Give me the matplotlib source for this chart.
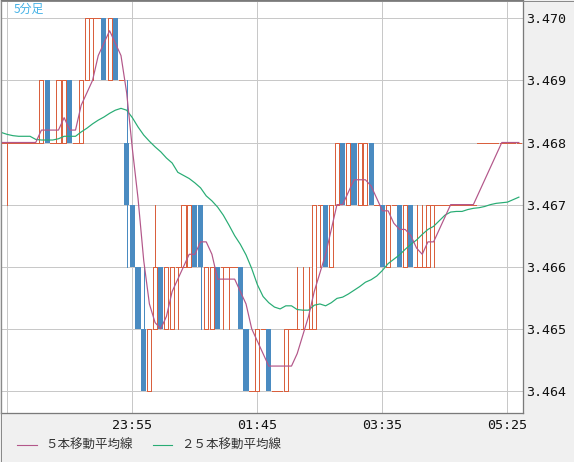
import matplotlib
matplotlib.use("Agg")
import matplotlib.pyplot as plt
from matplotlib.patches import Rectangle
from matplotlib.lines import Line2D
import numpy as np

# ---------------- data (5-minute bars) ----------------
opens = [3.468,3.468,3.468,3.468,3.468,3.468,3.468,3.468,3.469,3.468,
         3.468,3.468,3.469,3.468,3.468,3.469,3.470,3.470,3.470,3.469,
         3.470,3.469,3.468,3.467,3.466,3.465,3.464,3.465,3.466,3.465,
         3.465,3.466,3.466,3.466,3.467,3.467,3.465,3.465,3.466,3.466,
         3.466,3.466,3.466,3.465,3.464,3.464,3.465,3.465,3.464,3.464,
         3.464,3.465,3.465,3.465,3.465,3.465,3.467,3.467,3.466,3.467,
         3.468,3.467,3.468,3.467,3.467,3.468,3.467,3.467,3.466,3.467,
         3.467,3.466,3.467,3.466,3.466,3.466,3.467,3.467,3.467,3.467,
         3.467,3.467,3.467,3.467,3.468,3.468,3.468,3.468,3.468,3.468,
         3.468,3.468]
closes = [3.468,3.468,3.468,3.468,3.468,3.468,3.468,3.469,3.468,3.468,
          3.469,3.469,3.468,3.468,3.469,3.470,3.470,3.470,3.469,3.470,
          3.469,3.469,3.467,3.466,3.465,3.464,3.465,3.466,3.465,3.466,
          3.466,3.466,3.467,3.467,3.466,3.466,3.466,3.466,3.465,3.466,
          3.466,3.466,3.465,3.464,3.464,3.465,3.465,3.464,3.464,3.464,
          3.465,3.465,3.465,3.465,3.465,3.467,3.467,3.466,3.467,3.468,
          3.467,3.468,3.467,3.468,3.468,3.467,3.467,3.466,3.467,3.467,
          3.466,3.467,3.466,3.466,3.466,3.467,3.467,3.467,3.467,3.467,
          3.467,3.467,3.467,3.467,3.468,3.468,3.468,3.468,3.468,3.468,
          3.468,3.468]
highs = [3.468,3.468,3.468,3.468,3.468,3.468,3.468,3.469,3.469,3.468,
         3.469,3.469,3.469,3.468,3.469,3.470,3.470,3.470,3.470,3.470,
         3.470,3.469,3.469,3.467,3.466,3.466,3.465,3.467,3.466,3.466,
         3.466,3.466,3.467,3.467,3.467,3.467,3.466,3.466,3.466,3.466,
         3.466,3.466,3.466,3.465,3.464,3.465,3.465,3.465,3.464,3.464,
         3.465,3.465,3.466,3.466,3.466,3.467,3.467,3.467,3.467,3.468,
         3.468,3.468,3.468,3.468,3.468,3.468,3.467,3.467,3.467,3.467,
         3.467,3.467,3.467,3.467,3.467,3.467,3.467,3.467,3.467,3.467,
         3.467,3.467,3.467,3.467,3.468,3.468,3.468,3.468,3.468,3.468,
         3.468,3.468]
lows = [3.468,3.467,3.468,3.468,3.468,3.468,3.468,3.468,3.468,3.468,
        3.468,3.468,3.468,3.468,3.468,3.469,3.469,3.470,3.469,3.469,
        3.469,3.469,3.466,3.466,3.465,3.464,3.464,3.465,3.465,3.465,
        3.465,3.465,3.466,3.466,3.466,3.465,3.465,3.465,3.465,3.465,
        3.465,3.466,3.465,3.464,3.464,3.464,3.465,3.464,3.464,3.464,
        3.464,3.465,3.465,3.465,3.465,3.465,3.466,3.466,3.466,3.467,
        3.467,3.467,3.467,3.467,3.467,3.467,3.467,3.466,3.466,3.467,
        3.466,3.466,3.466,3.466,3.466,3.466,3.466,3.467,3.467,3.467,
        3.467,3.467,3.467,3.467,3.468,3.468,3.468,3.468,3.468,3.468,
        3.468,3.468]
ma5 = [3.4680,3.4680,3.4680,3.4680,3.4680,3.4680,3.4680,3.4682,3.4682,3.4682,
       3.4682,3.4684,3.4682,3.4682,3.4686,3.4688,3.4690,3.4694,3.4696,3.4698,
       3.4696,3.4694,3.4688,3.4679,3.4671,3.4661,3.4654,3.4651,3.4650,3.4652,
       3.4656,3.4658,3.4660,3.4662,3.4662,3.4664,3.4664,3.4662,3.4658,3.4658,
       3.4658,3.4658,3.4656,3.4654,3.4650,3.4648,3.4646,3.4644,3.4644,3.4644,
       3.4644,3.4644,3.4646,3.4649,3.4652,3.4656,3.4659,3.4662,3.4666,3.4670,
       3.4670,3.4672,3.4674,3.4674,3.4674,3.4673,3.4671,3.4669,3.4669,3.4667,
       3.4666,3.4666,3.4665,3.4663,3.4662,3.4664,3.4664,3.4666,3.4668,3.4670,
       3.4670,3.4670,3.4670,3.4670,3.4672,3.4674,3.4676,3.4678,3.4680,3.4680,
       3.4680,3.4680]
ma25 = [3.46816,3.46813,3.46811,3.46810,3.46810,3.46810,3.46805,3.46804,3.46804,3.46804,
        3.46806,3.46810,3.46810,3.46810,3.46817,3.46823,3.46830,3.46836,3.46841,3.46847,
        3.46852,3.46855,3.46852,3.46840,3.46825,3.46812,3.46802,3.46793,3.46785,3.46775,
        3.46767,3.46752,3.46747,3.46742,3.46735,3.46727,3.46714,3.46706,3.46696,3.46683,
        3.46667,3.46650,3.46636,3.46619,3.46597,3.46571,3.46552,3.46542,3.46535,3.46532,
        3.46537,3.46537,3.46531,3.46530,3.46530,3.46538,3.46540,3.46537,3.46542,3.46549,
        3.46551,3.46556,3.46562,3.46568,3.46575,3.46579,3.46585,3.46594,3.46605,3.46612,
        3.46619,3.46628,3.46636,3.46643,3.46652,3.46660,3.46665,3.46674,3.46683,3.46688,
        3.46689,3.46689,3.46692,3.46694,3.46695,3.46697,3.46700,3.46702,3.46703,3.46704,
        3.46708,3.46712]
yticks = [3.464, 3.465, 3.466, 3.467, 3.468, 3.469, 3.470]
ytick_labels = ["3.464", "3.465", "3.466", "3.467", "3.468", "3.469", "3.470"]
xgrid_bars = [1, 23, 45, 67, 89]
xtick_labels = ["", "23:55", "01:45", "03:35", "05:25"]
title = "5分足"
legend_labels = ["５本移動平均線", "２５本移動平均線"]

# ---------------- style ----------------
UP = "#d9603e"
DOWN = "#4a8bc1"
MA5_C = "#b3578a"
MA25_C = "#28ac74"
GRID = "#c8c8c8"
SPINE = "#7a7a7a"
BG = "#f0f0f0"
CJK = ["Noto Sans CJK JP", "DejaVu Sans"]
MONO = "DejaVu Sans Mono"

W, H = 574, 462
fig = plt.figure(figsize=(W / 100, H / 100), dpi=100, facecolor=BG)
px = 72 / 100  # points per pixel

ax_l, ax_r, ax_t, ax_b = 1, 523, 0.5, 413.3
ax = fig.add_axes([ax_l / W, 1 - ax_b / H, (ax_r - ax_l) / W, (ax_b - ax_t) / H])
ax.set_facecolor("white")

xs = np.arange(len(opens))
ax.set_xlim((ax_l - 1.616) / 5.684, (ax_r - 1.616) / 5.684)
ax.set_ylim(3.470 - (ax_b - 18.3) / 62.1e3, 3.470 + (18.3 - ax_t) / 62.1e3)

# grid
for v in yticks:
    ax.axhline(v, color=GRID, lw=1 * px, zorder=0, antialiased=False)
for b in xgrid_bars:
    ax.axvline(b, color=GRID, lw=1 * px, zorder=0, antialiased=False)

# candles
bw_up = 0.72
bw_dn = 0.90
bw_flat = 0.80
for x, o, h, l, c in zip(xs, opens, highs, lows, closes):
    col = DOWN if c < o else UP
    top, bot = max(o, c), min(o, c)
    if h > top + 1e-9:
        ax.plot([x, x], [top, h], color=col, lw=1 * px, zorder=2,
                solid_capstyle="butt", antialiased=False)
    if l < bot - 1e-9:
        ax.plot([x, x], [l, bot], color=col, lw=1 * px, zorder=2,
                solid_capstyle="butt", antialiased=False)
    if c > o:
        ax.add_patch(Rectangle((x - bw_up / 2, o), bw_up, c - o, facecolor="white",
                               edgecolor=UP, lw=1 * px, zorder=3, antialiased=False))
    elif c < o:
        ax.add_patch(Rectangle((x - bw_dn / 2, c), bw_dn, o - c, facecolor=DOWN,
                               edgecolor="none", lw=0, zorder=3, antialiased=False))
    else:
        ax.plot([x - bw_flat / 2, x + bw_flat / 2], [o, o], color=UP, lw=1 * px,
                zorder=3, solid_capstyle="butt", antialiased=False)

# moving averages
ax.plot(xs, ma25, color=MA25_C, lw=1.2 * px, zorder=4)
ax.plot(xs, ma5, color=MA5_C, lw=1.2 * px, zorder=5)

# axes / ticks
for s in ax.spines.values():
    s.set_color(SPINE)
    s.set_linewidth(1.3 * px)
ax.yaxis.tick_right()
ax.set_yticks(yticks)
ax.set_yticklabels(ytick_labels, fontfamily=MONO, fontsize=9.6, color="#111111")
ax.set_xticks(xgrid_bars)
ax.set_xticklabels(xtick_labels, fontfamily=MONO, fontsize=9.6, color="#111111")
ax.tick_params(axis="y", length=0, pad=2.2)
ax.tick_params(axis="x", length=0, pad=4.0)

# title
fig.text(14 / W, 1 - 9.5 / H, title, fontfamily=CJK, fontsize=8.6, color="#45b2e6",
         ha="left", va="center")

# legend (manual, below the plot)
ly = 1 - 445 / H
fig.add_artist(Line2D([16.5 / W, 36.6 / W], [ly, ly], color=MA5_C, lw=1.1 * px))
fig.text(45.5 / W, ly, legend_labels[0], fontfamily=CJK, fontsize=9.0, color="#333333",
         ha="left", va="center")
fig.add_artist(Line2D([153 / W, 172 / W], [ly, ly], color=MA25_C, lw=1.1 * px))
fig.text(181 / W, ly, legend_labels[1], fontfamily=CJK, fontsize=9.0, color="#333333",
         ha="left", va="center")

# outer frame
fig.add_artist(Rectangle((0.5 / W, 0.5 / H), (W - 1) / W, (H - 1) / H, transform=fig.transFigure,
                         facecolor="none", edgecolor="#8a8a8a", lw=1 * px))

fig.savefig("out.png", dpi=100, facecolor=BG)
